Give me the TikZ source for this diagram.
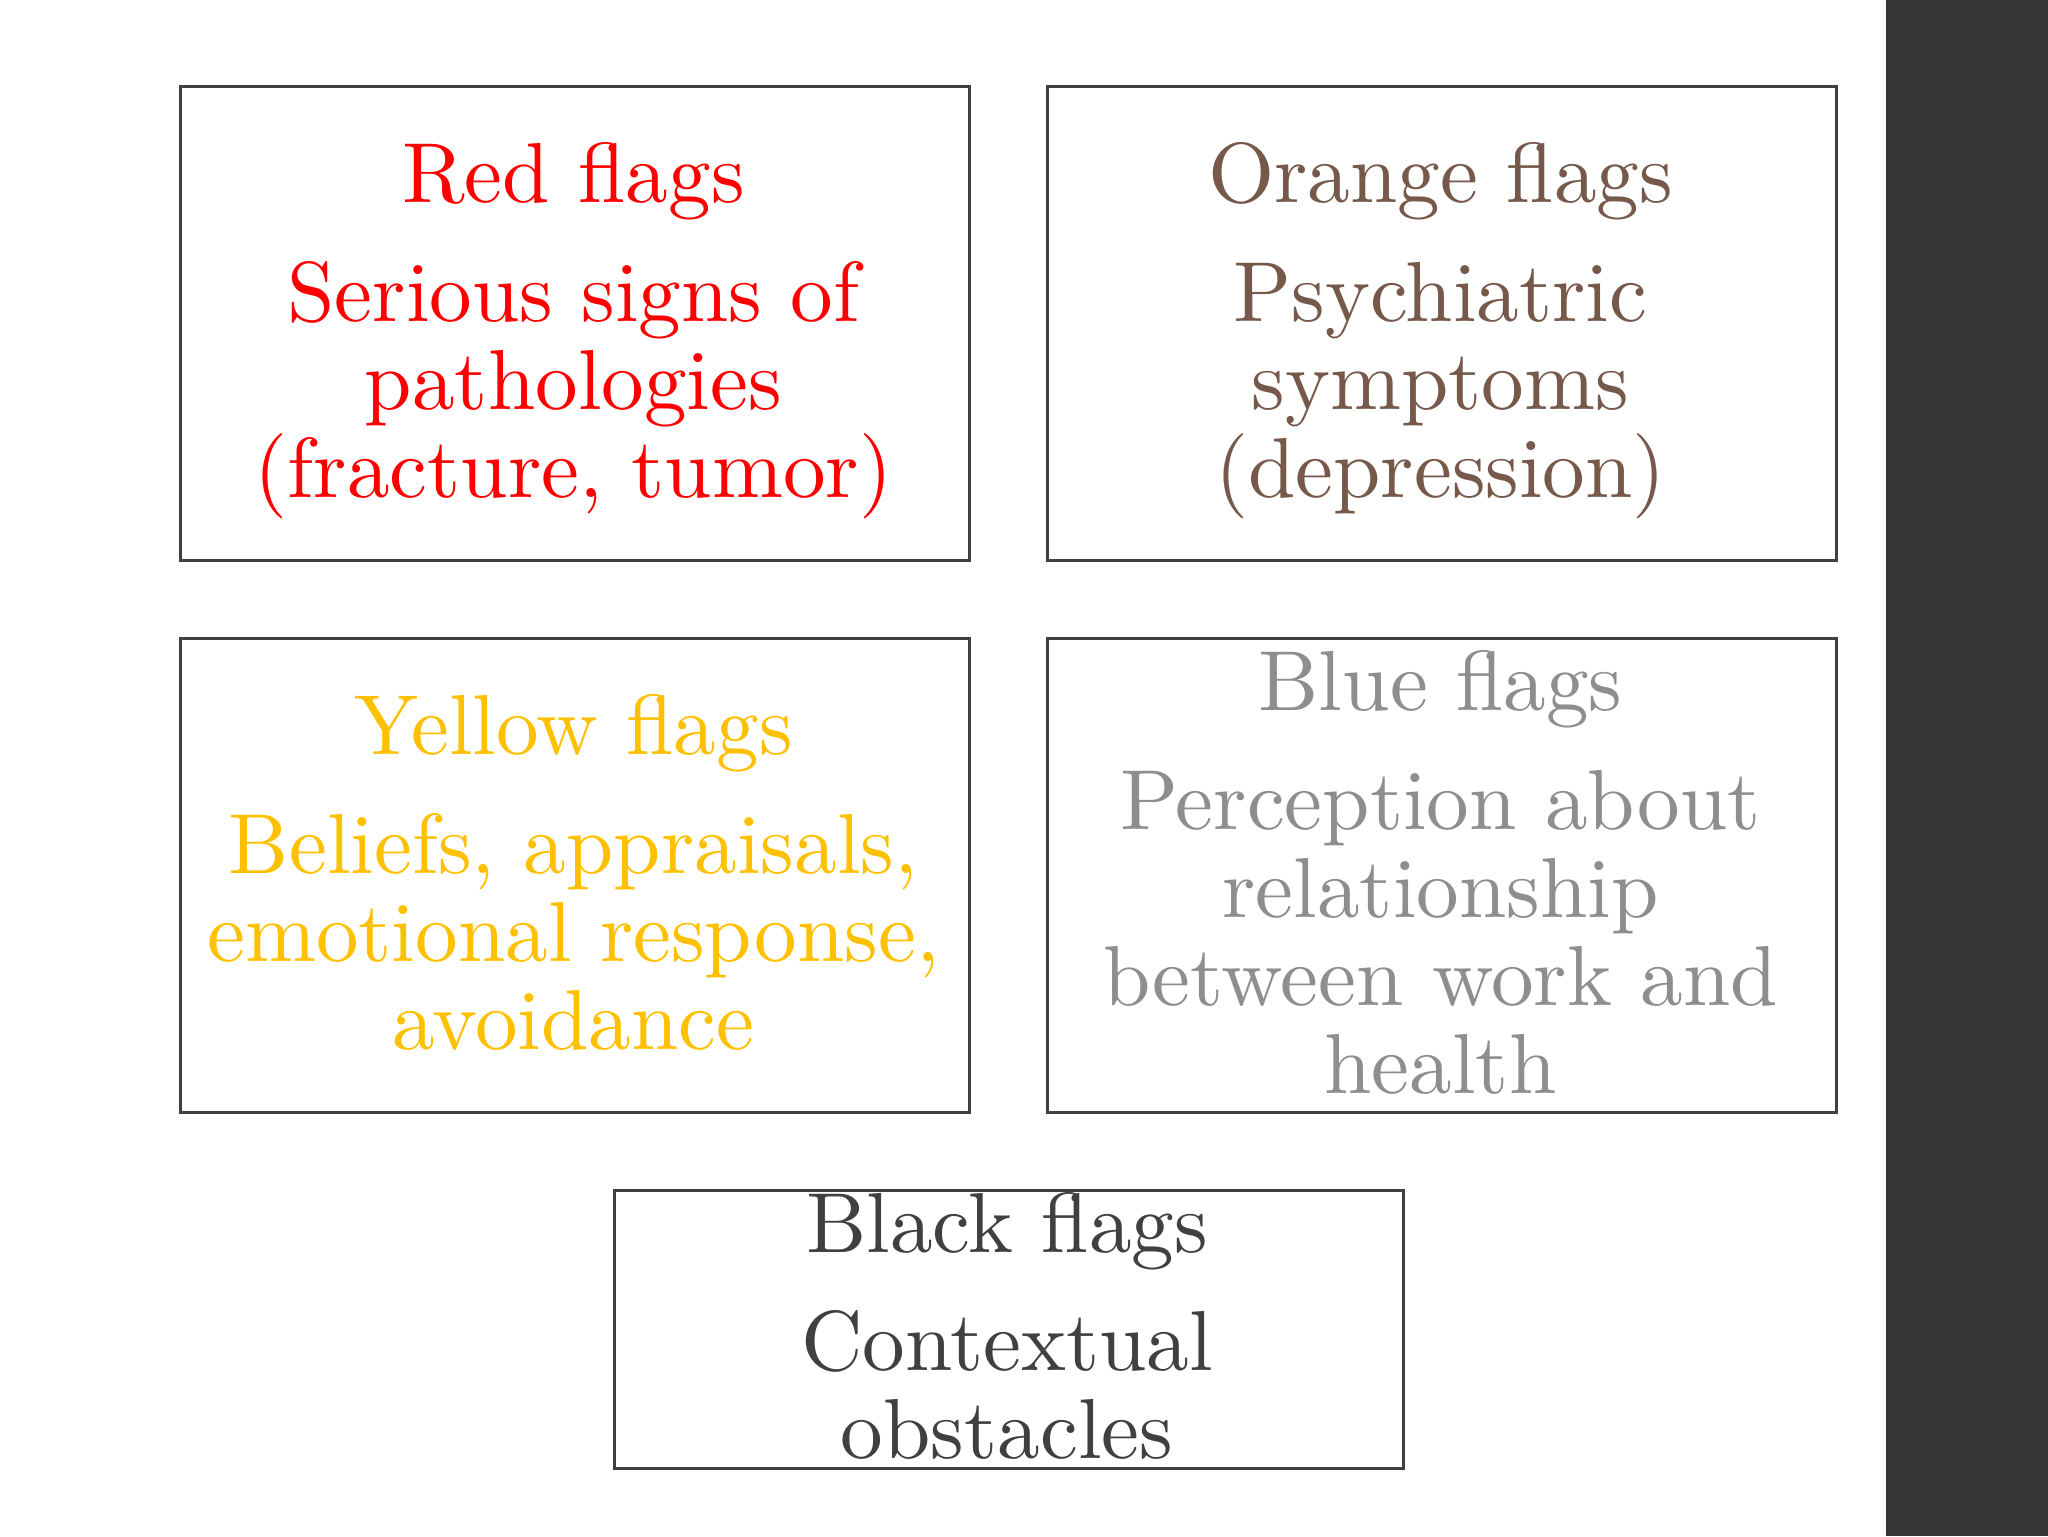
\documentclass[tikz,border=0pt]{standalone}
\usepackage{fontspec}
\setmainfont{lmroman10-regular.otf}
\definecolor{redflag}{HTML}{FF0000}
\definecolor{orangeflag}{HTML}{76594B}
\definecolor{yellowflag}{HTML}{FFC000}
\definecolor{blueflag}{HTML}{8E8E90}
\definecolor{blackflag}{HTML}{404040}
\definecolor{boxline}{HTML}{404040}
\definecolor{sidebar}{HTML}{363638}
\begin{document}
\begin{tikzpicture}[x=0.25pt,y=-0.25pt,
  flagbox/.style={draw=boxline, line width=0.75pt, anchor=north west, inner sep=0pt,
    minimum width=197.25pt, minimum height=118.5pt},
  ttl/.style={anchor=base, inner sep=0pt, font=\fontsize{21.3}{22}\selectfont},
  bodytext/.style={anchor=base, inner sep=0pt, align=center, text width=200pt,
    font=\fontsize{21.3}{22}\selectfont}]
\useasboundingbox (0,0) rectangle (2048,1536);
\fill[sidebar] (1886,0) rectangle (2048,1536);
% boxes
\node[flagbox] (red) at (179,85) {};
\node[flagbox] (orange) at (1046,85) {};
\node[flagbox] (yellow) at (179,637) {};
\node[flagbox] (blue) at (1046,637) {};
\node[flagbox, minimum height=69.5pt] (black) at (613,1189) {};
% red
\node[ttl, text=redflag] (redT) at (573.5,202) {Red flags};
\node[bodytext, text=redflag] (redB) at (573.5,321) {Serious signs of\\pathologies\\(fracture, tumor)};
% orange
\node[ttl, text=orangeflag] (orangeT) at (1440.5,202) {Orange flags};
\node[bodytext, text=orangeflag] (orangeB) at (1440.5,321) {Psychiatric\\symptoms\\(depression)};
% yellow
\node[ttl, text=yellowflag] (yellowT) at (573.5,754) {Yellow flags};
\node[bodytext, text=yellowflag] (yellowB) at (573.5,873) {Beliefs, appraisals,\\emotional response,\\avoidance};
% blue
\node[ttl, text=blueflag] (blueT) at (1440.5,710) {Blue flags};
\node[bodytext, text=blueflag] (blueB) at (1440.5,829) {Perception about\\relationship\\between work and\\health};
% black
\node[ttl, text=blackflag] (blackT) at (1007,1252) {Black flags};
\node[bodytext, text=blackflag] (blackB) at (1007,1370) {Contextual\\obstacles};
\end{tikzpicture}
\end{document}
